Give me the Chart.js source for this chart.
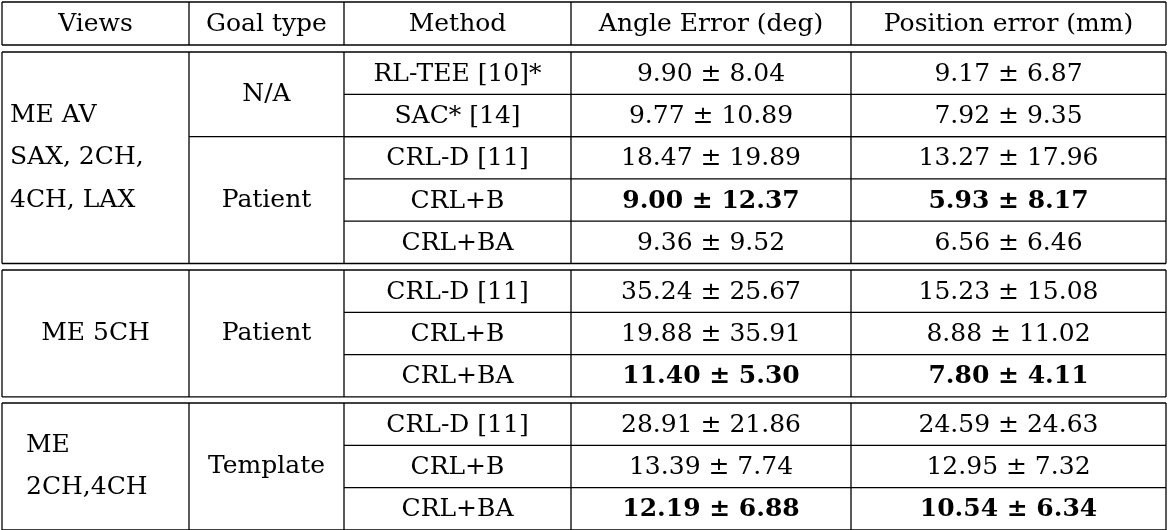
<!DOCTYPE html>
<html>
<head>
<meta charset="utf-8">
<script src="https://cdn.jsdelivr.net/npm/chart.js@4"></script>
<style>
  body { margin: 0; background: #fff; }
</style>
</head>
<body>
<canvas id="tableChart" width="1168" height="530"></canvas>
<script>
const headers = ['Views', 'Goal type', 'Method', 'Angle Error (deg)', 'Position error (mm)'];
const methods = ['RL-TEE [10]*', 'SAC* [14]', 'CRL-D [11]', 'CRL+B', 'CRL+BA',
                 'CRL-D [11]', 'CRL+B', 'CRL+BA',
                 'CRL-D [11]', 'CRL+B', 'CRL+BA'];
const angleMean = [9.90, 9.77, 18.47, 9.00, 9.36, 35.24, 19.88, 11.40, 28.91, 13.39, 12.19];
const angleStd = [8.04, 10.89, 19.89, 12.37, 9.52, 25.67, 35.91, 5.30, 21.86, 7.74, 6.88];
const posMean = [9.17, 7.92, 13.27, 5.93, 6.56, 15.23, 8.88, 7.80, 24.59, 12.95, 10.54];
const posStd = [6.87, 9.35, 17.96, 8.17, 6.46, 15.08, 11.02, 4.11, 24.63, 7.32, 6.34];
const boldRows = [3, 7, 10];
// groups: first row, number of rows
const groupStart = [0, 5, 8];
const groupSize = [5, 3, 3];
const viewLabels = [['ME AV', 'SAX, 2CH,', '4CH, LAX'], ['ME 5CH'], ['ME', '2CH,4CH']];
const goalStart = [0, 2, 5, 8];
const goalSize = [2, 3, 3, 3];
const goalLabels = ['N/A', 'Patient', 'Patient', 'Template'];

const colX = [2, 189, 344, 571, 851, 1166];
const headTop = 2, headBottom = 45;
const groupTop = [52, 270, 403];
const rowH = 42.3;
const viewAlign = ['left', 'center', 'left'];
const viewX = [8, 0, 24];

const font = '25px "DejaVu Serif"';
const boldFont = 'bold 25px "DejaVu Serif"';

const tablePlugin = {
    id: 'tablePlugin',
    afterDraw(chart) {
        const ctx = chart.ctx;
        ctx.save();
        ctx.fillStyle = '#fff';
        ctx.fillRect(0, 0, chart.width, chart.height);
        ctx.strokeStyle = '#000';
        ctx.fillStyle = '#000';
        ctx.lineWidth = 1.3;
        const line = (x1, y1, x2, y2) => {
            ctx.beginPath(); ctx.moveTo(x1, y1); ctx.lineTo(x2, y2); ctx.stroke();
        };
        const text = (t, x, y, align, f) => {
            ctx.font = f || font;
            ctx.textAlign = align || 'center';
            ctx.textBaseline = 'middle';
            ctx.fillText(t, x, y);
        };
        const colMid = c => (colX[c] + colX[c + 1]) / 2;
        const rowY = r => {
            let g = 0;
            while (g < 2 && r >= groupStart[g + 1]) g++;
            return groupTop[g] + (r - groupStart[g]) * rowH;
        };

        // header
        line(colX[0], headTop, colX[5], headTop);
        line(colX[0], headBottom, colX[5], headBottom);
        colX.forEach(x => line(x, headTop, x, headBottom));
        headers.forEach((h, i) => text(h, colMid(i), (headTop + headBottom) / 2 + 1));

        // groups
        groupStart.forEach((s, g) => {
            const top = groupTop[g];
            const bottom = top + groupSize[g] * rowH;
            line(colX[0], top, colX[5], top);
            line(colX[0], bottom, colX[5], bottom);
            colX.forEach(x => line(x, top, x, bottom));
            const mid = (top + bottom) / 2;
            const lines = viewLabels[g];
            lines.forEach((t, k) => {
                const y = mid + (k - (lines.length - 1) / 2) * rowH;
                const x = viewAlign[g] === 'left' ? colX[0] + viewX[g] : colMid(0);
                text(t, x, y, viewAlign[g]);
            });
        });

        // goal type cells
        goalStart.forEach((s, i) => {
            const top = rowY(s);
            const bottom = top + goalSize[i] * rowH;
            if (s !== 0 && s !== 5 && s !== 8) line(colX[1], top, colX[5], top);
            text(goalLabels[i], colMid(1), (top + bottom) / 2);
        });

        // rows
        methods.forEach((m, r) => {
            const top = rowY(r);
            if (!groupStart.includes(r)) line(colX[2], top, colX[5], top);
            const y = top + rowH / 2 + 1;
            text(m, colMid(2), y);
            const f = boldRows.includes(r) ? boldFont : font;
            text(angleMean[r].toFixed(2) + ' ± ' + angleStd[r].toFixed(2), colMid(3), y, 'center', f);
            text(posMean[r].toFixed(2) + ' ± ' + posStd[r].toFixed(2), colMid(4), y, 'center', f);
        });
        ctx.restore();
    }
};

new Chart(document.getElementById('tableChart'), {
    type: 'scatter',
    data: { datasets: [{ data: [] }] },
    options: {
        animation: false,
        responsive: false,
        devicePixelRatio: 1,
        plugins: { legend: { display: false }, tooltip: { enabled: false } },
        scales: { x: { display: false }, y: { display: false } }
    },
    plugins: [tablePlugin]
});
</script>
</body>
</html>
